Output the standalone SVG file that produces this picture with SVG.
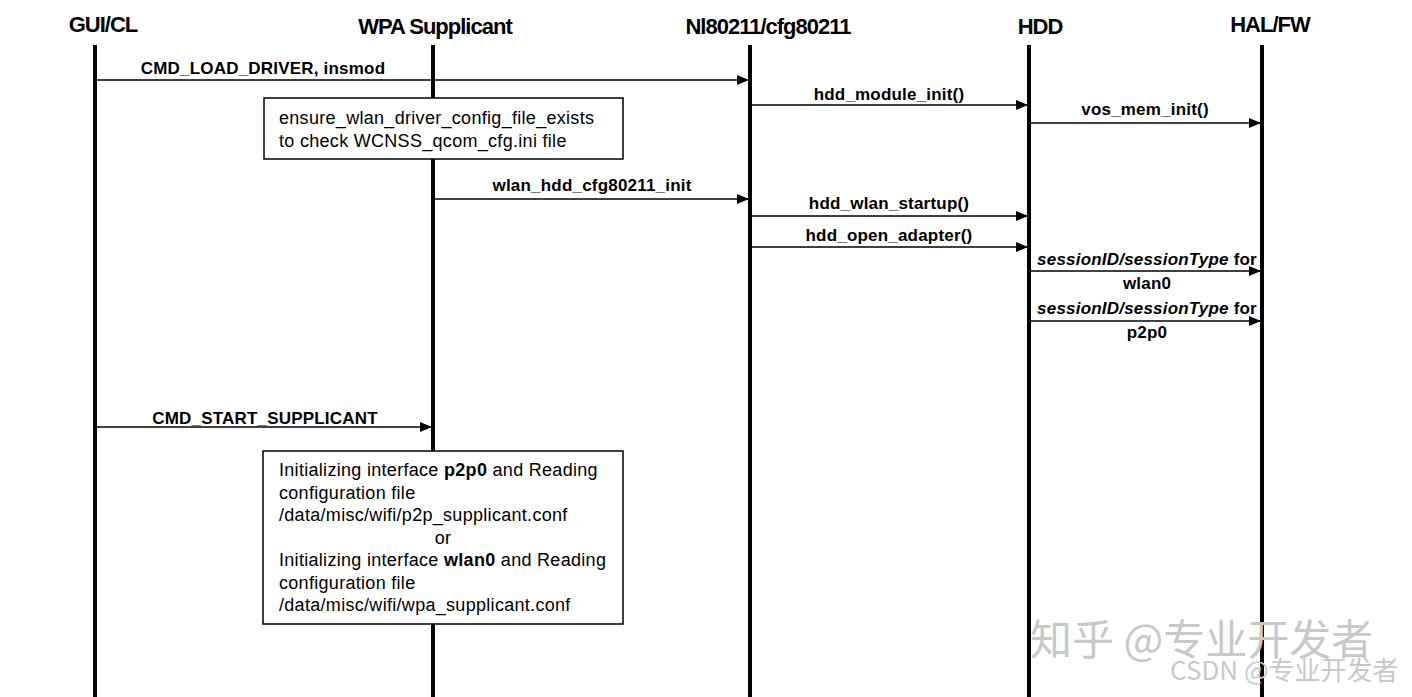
<svg xmlns="http://www.w3.org/2000/svg" width="1412" height="697" viewBox="0 0 1412 697">
<style>
.h{font:bold 22px "Liberation Sans",Arial,sans-serif;letter-spacing:-1px;text-anchor:middle}
.l{font:bold 17px "Liberation Sans",Arial,sans-serif;letter-spacing:0.2px;text-anchor:middle}
.i{font-style:italic}
.b{font:18px "Liberation Sans",Arial,sans-serif;letter-spacing:0.3px}
.life{stroke:#000;stroke-width:4}
.m{stroke:#000;stroke-width:1.5;marker-end:url(#a)}
.box{fill:#fff;stroke:#000;stroke-width:1.5}
.wm{font-family:"Noto Sans CJK SC",sans-serif;fill:#c8c8c8}
</style>
<defs><marker id="a" markerWidth="12" markerHeight="10" refX="12" refY="5" orient="auto" markerUnits="userSpaceOnUse"><path d="M0,0L12,5L0,10z"/></marker></defs>
<rect width="1412" height="697" fill="#fff"/>
<g id="gui"><text class="h" x="103" y="32">GUI/CL</text><line class="life" x1="95" y1="45" x2="95" y2="697"/></g>
<g id="wpa"><text class="h" x="435" y="34">WPA Supplicant</text><line class="life" x1="433" y1="45" x2="433" y2="697"/></g>
<g id="nl"><text class="h" x="768" y="34">Nl80211/cfg80211</text><line class="life" x1="750" y1="45" x2="750" y2="697"/></g>
<g id="hdd"><text class="h" x="1040" y="34">HDD</text><line class="life" x1="1029" y1="45" x2="1029" y2="697"/></g>
<g id="hal"><text class="h" x="1270" y="32">HAL/FW</text><line class="life" x1="1262" y1="45" x2="1262" y2="697"/></g>
<g id="connectors">
<line class="m" x1="95" y1="80" x2="749" y2="80"/><text class="l" x="263" y="74">CMD_LOAD_DRIVER, insmod</text>
<line class="m" x1="750" y1="105" x2="1028" y2="105"/><text class="l" x="889" y="100">hdd_module_init()</text>
<line class="m" x1="1029" y1="123" x2="1261" y2="123"/><text class="l" x="1145" y="115">vos_mem_init()</text>
<line class="m" x1="433" y1="199" x2="749" y2="199"/><text class="l" x="592" y="191">wlan_hdd_cfg80211_init</text>
<line class="m" x1="750" y1="216" x2="1028" y2="216"/><text class="l" x="889" y="209">hdd_wlan_startup()</text>
<line class="m" x1="750" y1="247" x2="1028" y2="247"/><text class="l" x="889" y="241">hdd_open_adapter()</text>
<line class="m" x1="1029" y1="271" x2="1261" y2="271"/><text class="l" x="1147" y="265" letter-spacing="-0.4"><tspan class="i">sessionID/sessionType</tspan> for</text><text class="l" x="1147" y="289">wlan0</text>
<line class="m" x1="1029" y1="321" x2="1261" y2="321"/><text class="l" x="1147" y="314" letter-spacing="-0.4"><tspan class="i">sessionID/sessionType</tspan> for</text><text class="l" x="1147" y="338">p2p0</text>
<line class="m" x1="95" y1="427" x2="432" y2="427"/><text class="l" x="265" y="424">CMD_START_SUPPLICANT</text>
</g>
<g id="note1"><rect class="box" x="264" y="98" width="359" height="61"/>
<text class="b" x="279" y="124">ensure_wlan_driver_config_file_exists</text>
<text class="b" x="279" y="147">to check WCNSS_qcom_cfg.ini file</text></g>
<g id="note2"><rect class="box" x="263" y="451" width="360" height="173"/>
<text class="b" x="279" y="476">Initializing interface <tspan font-weight="bold">p2p0</tspan> and Reading</text>
<text class="b" x="279" y="499">configuration file</text>
<text class="b" x="279" y="521">/data/misc/wifi/p2p_supplicant.conf</text>
<text class="b" x="443" y="544" text-anchor="middle">or</text>
<text class="b" x="279" y="566">Initializing interface <tspan font-weight="bold">wlan0</tspan> and Reading</text>
<text class="b" x="279" y="589">configuration file</text>
<text class="b" x="279" y="611">/data/misc/wifi/wpa_supplicant.conf</text></g>
<text class="wm" x="1030" y="655" font-size="42">知乎 @专业开发者</text>
<text class="wm" x="1170" y="680" font-size="26">CSDN @专业开发者</text>
</svg>
